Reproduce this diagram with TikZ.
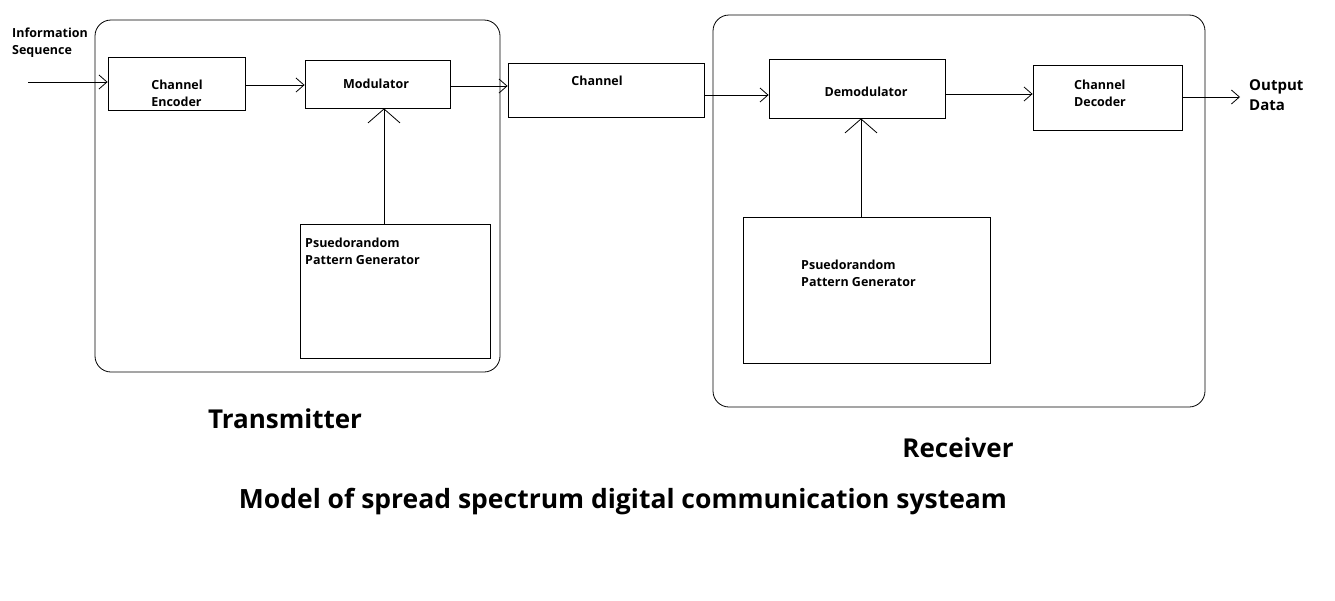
\documentclass[tikz,border=0pt]{standalone}
\usepackage{fontspec}
\setmainfont{Open Sans}
\usetikzlibrary{arrows.meta}
\begin{document}
\begin{tikzpicture}[x=1pt,y=-1pt,
  box/.style={draw,thick,inner sep=0pt},
  lbl/.style={font=\fontsize{12.5}{17}\selectfont\bfseries,align=left,inner sep=0pt},
  arr/.style={thick,-{Straight Barb[length=8pt,width=14pt]}},
  barr/.style={thick,-{Straight Barb[length=14pt,width=32pt]}}]
\useasboundingbox (0,0) rectangle (1335,600);
\draw[thick,rounded corners=16pt] (95,20) rectangle (500,372);
\draw[thick,rounded corners=16pt] (713,15) rectangle (1205,407);
\node[box,minimum width=137pt,minimum height=53pt] (enc) at (176.5,83.5) {};
\node[lbl,align=left] at (177,93) {Channel\\Encoder};
\node[box,minimum width=145pt,minimum height=48pt] (mod) at (377.5,84) {};
\node[lbl] at (376,84) {Modulator};
\node[box,minimum width=190pt,minimum height=134pt] (pn1) at (395,291) {};
\node[lbl,anchor=north west] at (305,238) {Psuedorandom\\Pattern Generator};
\node[box,minimum width=196pt,minimum height=54pt] (chan) at (606,90) {};
\node[lbl] at (597,81) {Channel};
\node[box,minimum width=176pt,minimum height=59pt] (dem) at (857,88.5) {};
\node[lbl] at (866,92) {Demodulator};
\node[box,minimum width=149pt,minimum height=65pt] (dec) at (1107.5,97.5) {};
\node[lbl,align=left] at (1100,93) {Channel\\Decoder};
\node[box,minimum width=247pt,minimum height=146pt] (pn2) at (866.5,290) {};
\node[lbl,anchor=north west] at (801,260) {Psuedorandom\\Pattern Generator};
\node[lbl,anchor=north west,font=\fontsize{12.5}{17}\selectfont\bfseries] (info) at (12,28) {Information\\Sequence};
\node[lbl,anchor=north west,font=\fontsize{15}{20}\selectfont\bfseries] (out) at (1249,79) {Output\\Data};
\coordinate (in) at (28,82);
\coordinate (o) at (1240,97);
\draw[arr] (in) -- (in -| enc.west);
\draw[arr] (enc.east |- 0,85) -- (mod.west |- 0,85);
\draw[arr] (mod.east |- 0,86) -- (chan.west |- 0,86);
\draw[barr] (pn1.north -| 384,0) -- (mod.south -| 384,0);
\draw[arr] (chan.east |- 0,95) -- (dem.west |- 0,95);
\draw[arr] (dem.east |- 0,94) -- (dec.west |- 0,94);
\draw[barr] (pn2.north -| 861,0) -- (dem.south -| 861,0);
\draw[arr] (dec.east |- o) -- (o);
\node[lbl,font=\fontsize{26}{28}\selectfont\bfseries] (tx) at (285,419) {Transmitter};
\node[lbl,font=\fontsize{26}{28}\selectfont\bfseries] (rx) at (958,448) {Receiver};
\node[lbl,font=\fontsize{26.5}{28}\selectfont\bfseries] (title) at (623,502) {Model of spread spectrum digital communication systeam};
\end{tikzpicture}
\end{document}
